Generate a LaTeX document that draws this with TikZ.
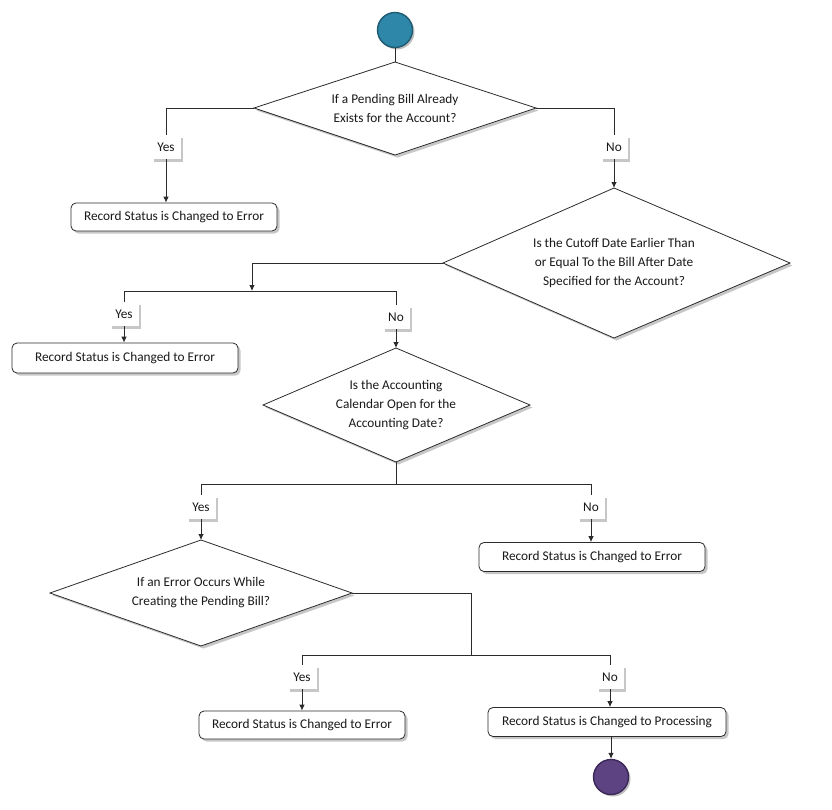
\documentclass[tikz,border=0pt]{standalone}
\usepackage{fontspec}
\setmainfont{Carlito}
\usetikzlibrary{shadows,arrows.meta}
\definecolor{lc}{HTML}{2B2B2B}
\definecolor{startfill}{HTML}{2E87A8}
\definecolor{startdraw}{HTML}{1E5A72}
\definecolor{endfill}{HTML}{5E4383}
\definecolor{enddraw}{HTML}{3A2858}
\begin{document}
\begin{tikzpicture}[x=1pt,y=-1pt,
  every node/.style={font=\fontsize{13.3}{19}\selectfont, text=black!90},
  conn/.style={draw=lc, line width=0.8pt},
  arr/.style={conn, -{Latex[length=6pt,width=5.5pt]}},
  shad/.style={drop shadow={shadow xshift=2.5pt, shadow yshift=-2.5pt, opacity=0.22, fill=black}},
  boxnode/.style={draw=lc, line width=0.8pt, rounded corners=5pt, fill=white, shad, minimum height=29pt, inner sep=0pt},
  lbl/.style={fill=white, shad, minimum height=24pt, inner xsep=6pt, inner ysep=0pt},
  dia/.style={draw=lc, line width=0.8pt, fill=white, shad},
  dtext/.style={align=center, inner sep=0pt},
  termnode/.style={circle, minimum size=35pt, inner sep=0pt, line width=1.4pt, drop shadow={shadow xshift=2pt, shadow yshift=-2pt, opacity=0.25, fill=black}}
]
\useasboundingbox (0,0) rectangle (832,809);

% start
\node[termnode, fill=startfill, draw=startdraw] (start) at (395,30) {};

% diamond 1
\coordinate (d1t) at (395,62); \coordinate (d1b) at (395,155);
\coordinate (d1l) at (254,108); \coordinate (d1r) at (536,108);
\path[dia] (d1t) -- (d1r) -- (d1b) -- (d1l) -- cycle;
\node[dtext] (d1) at (395,108) {If a Pending Bill Already\\Exists for the Account?};

% diamond 2
\coordinate (d2t) at (614,188); \coordinate (d2b) at (614,338);
\coordinate (d2l) at (443,263); \coordinate (d2r) at (790,263);
\path[dia] (d2t) -- (d2r) -- (d2b) -- (d2l) -- cycle;
\node[dtext] (d2) at (614,263) {Is the Cutoff Date Earlier Than\\or Equal To the Bill After Date\\Specified for the Account?};

% diamond 3
\coordinate (d3t) at (396,348); \coordinate (d3b) at (396,462);
\coordinate (d3l) at (263,405); \coordinate (d3r) at (530,405);
\path[dia] (d3t) -- (d3r) -- (d3b) -- (d3l) -- cycle;
\node[dtext] (d3) at (396,405) {Is the Accounting\\Calendar Open for the\\Accounting Date?};

% diamond 4
\coordinate (d4t) at (201,540); \coordinate (d4b) at (201,646);
\coordinate (d4l) at (50,593); \coordinate (d4r) at (352,593);
\path[dia] (d4t) -- (d4r) -- (d4b) -- (d4l) -- cycle;
\node[dtext] (d4) at (201,593) {If an Error Occurs While\\Creating the Pending Bill?};

% boxes
\node[boxnode, minimum width=206pt, minimum height=28pt] (b1) at (174,217) {Record Status is Changed to Error};
\node[boxnode, minimum width=226pt, minimum height=30pt] (b2) at (125,358) {Record Status is Changed to Error};
\node[boxnode, minimum width=226pt] (b3) at (592,557) {Record Status is Changed to Error};
\node[boxnode, minimum width=206pt, minimum height=28pt] (b4) at (302,725) {Record Status is Changed to Error};
\node[boxnode, minimum width=238pt] (b5) at (607,722) {Record Status is Changed to Processing};

% end
\node[termnode, fill=endfill, draw=enddraw] (end) at (611,777) {};

% labels
\node[lbl] (y1) at (166,147) {Yes};
\node[lbl] (n1) at (614,147) {No};
\node[lbl] (y2) at (124,314) {Yes};
\node[lbl] (n2) at (396,317) {No};
\node[lbl] (y3) at (201,507) {Yes};
\node[lbl] (n3) at (591,507) {No};
\node[lbl] (y4) at (302,677) {Yes};
\node[lbl] (n4) at (610,677) {No};

% junction coordinates
\coordinate (j2) at (252,291);
\coordinate (j2l) at (124,291); \coordinate (j2r) at (396,291);
\coordinate (j3) at (396,484);
\coordinate (j3l) at (201,484); \coordinate (j3r) at (591,484);
\coordinate (j4) at (471,655);
\coordinate (j4l) at (302,655); \coordinate (j4r) at (610,655);

% connectors
\draw[conn] (start) -- (d1t);
\draw[conn] (d1l) -| (y1);
\draw[arr] (y1) -- (y1 |- b1.north);
\draw[conn] (d1r) -| (n1);
\draw[arr] (n1) -- (d2t);

\draw[arr] (d2l) -| (j2);
\draw[conn] (j2l) -- (j2r);
\draw[conn] (j2l) -- (y2);
\draw[arr] (y2) -- (y2 |- b2.north);
\draw[conn] (j2r) -- (n2);
\draw[arr] (n2) -- (d3t);

\draw[conn] (d3b) -- (j3);
\draw[conn] (j3l) -- (j3r);
\draw[conn] (j3l) -- (y3);
\draw[arr] (y3) -- (d4t);
\draw[conn] (j3r) -- (n3);
\draw[arr] (n3) -- (n3 |- b3.north);

\draw[conn] (d4r) -| (j4);
\draw[conn] (j4l) -- (j4r);
\draw[conn] (j4l) -- (y4);
\draw[arr] (y4) -- (y4 |- b4.north);
\draw[conn] (j4r) -- (n4);
\draw[arr] (n4) -- (n4 |- b5.north);

\draw[arr] (b5.south -| end) -- (end);
\end{tikzpicture}
\end{document}
